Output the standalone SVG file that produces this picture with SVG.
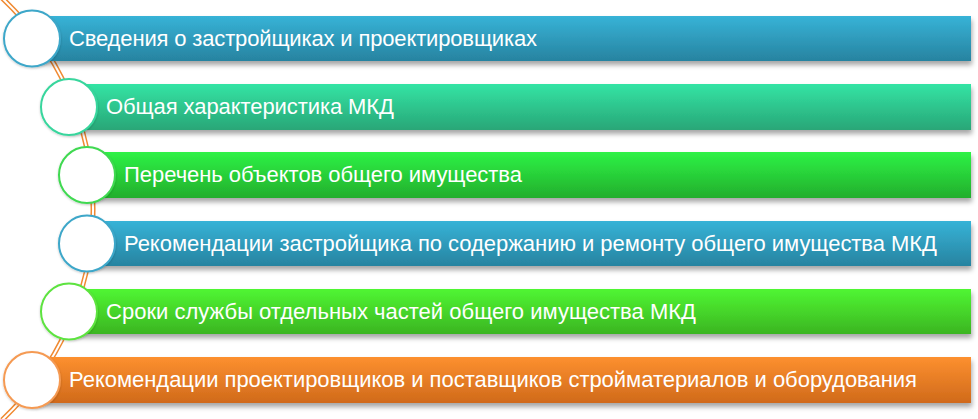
<svg xmlns="http://www.w3.org/2000/svg" width="978" height="419" viewBox="0 0 978 419">
<style>
.lbl{font-family:"Liberation Sans",Arial,sans-serif;font-size:22px;fill:#ffffff}
.circ{fill:#ffffff;stroke-width:2;filter:url(#sh2)}
.bar{filter:url(#sh)}
</style>
<defs>
<filter id="sh" x="-5%" y="-20%" width="110%" height="160%">
<feDropShadow dx="1" dy="4" stdDeviation="2.5" flood-color="#000" flood-opacity="0.35"/>
</filter>
<filter id="sh2" x="-20%" y="-20%" width="140%" height="140%">
<feDropShadow dx="0" dy="1" stdDeviation="1" flood-color="#000" flood-opacity="0.2"/>
</filter>
<linearGradient id="gBlue" x1="0" y1="0" x2="0" y2="1"><stop offset="0" stop-color="#37b3d7"/><stop offset="1" stop-color="#2783a0"/></linearGradient>
<linearGradient id="gTeal" x1="0" y1="0" x2="0" y2="1"><stop offset="0" stop-color="#33e4a4"/><stop offset="1" stop-color="#29a677"/></linearGradient>
<linearGradient id="gGreen" x1="0" y1="0" x2="0" y2="1"><stop offset="0" stop-color="#2ef246"/><stop offset="1" stop-color="#22ae2c"/></linearGradient>
<linearGradient id="gLime" x1="0" y1="0" x2="0" y2="1"><stop offset="0" stop-color="#50f632"/><stop offset="1" stop-color="#3bb522"/></linearGradient>
<linearGradient id="gOrange" x1="0" y1="0" x2="0" y2="1"><stop offset="0" stop-color="#fd902f"/><stop offset="1" stop-color="#d06a1b"/></linearGradient>
</defs>
<g id="connectors">
<path d="M 2 -2 A 290 290 0 0 1 2 420" fill="none" stroke="#f08a32" stroke-width="5"/>
<path d="M 2 -2 A 290 290 0 0 1 2 420" fill="none" stroke="#ffffff" stroke-width="2"/>
</g>
<g id="node1">
<rect class="bar" x="32" y="16" width="939" height="45" fill="url(#gBlue)"/>
<circle class="circ" cx="32" cy="38.5" r="28" stroke="#3ea7c9"/>
<text class="lbl" x="69" y="46" textLength="468" lengthAdjust="spacing">Сведения о застройщиках и проектировщиках</text>
</g>
<g id="node2">
<rect class="bar" x="69" y="84" width="902" height="46" fill="url(#gTeal)"/>
<circle class="circ" cx="69" cy="107" r="28" stroke="#38d69d"/>
<text class="lbl" x="106" y="114" textLength="288" lengthAdjust="spacing">Общая характеристика МКД</text>
</g>
<g id="node3">
<rect class="bar" x="87" y="152" width="884" height="46" fill="url(#gGreen)"/>
<circle class="circ" cx="87" cy="175" r="28" stroke="#3fd951"/>
<text class="lbl" x="124" y="182" textLength="398" lengthAdjust="spacing">Перечень объектов общего имущества</text>
</g>
<g id="node4">
<rect class="bar" x="87" y="221" width="884" height="45" fill="url(#gBlue)"/>
<circle class="circ" cx="87" cy="243.5" r="28" stroke="#3ea7c9"/>
<text class="lbl" x="124" y="251" textLength="813" lengthAdjust="spacing">Рекомендации застройщика по содержанию и ремонту общего имущества МКД</text>
</g>
<g id="node5">
<rect class="bar" x="69" y="289" width="902" height="45" fill="url(#gLime)"/>
<circle class="circ" cx="69" cy="311.5" r="28" stroke="#5de33f"/>
<text class="lbl" x="106" y="319" textLength="590" lengthAdjust="spacing">Сроки службы отдельных частей общего имущества МКД</text>
</g>
<g id="node6">
<rect class="bar" x="32" y="357" width="939" height="46" fill="url(#gOrange)"/>
<circle class="circ" cx="32" cy="380" r="28" stroke="#f59a52"/>
<text class="lbl" x="69" y="387" textLength="848" lengthAdjust="spacing">Рекомендации проектировщиков и поставщиков стройматериалов и оборудования</text>
</g>
</svg>
